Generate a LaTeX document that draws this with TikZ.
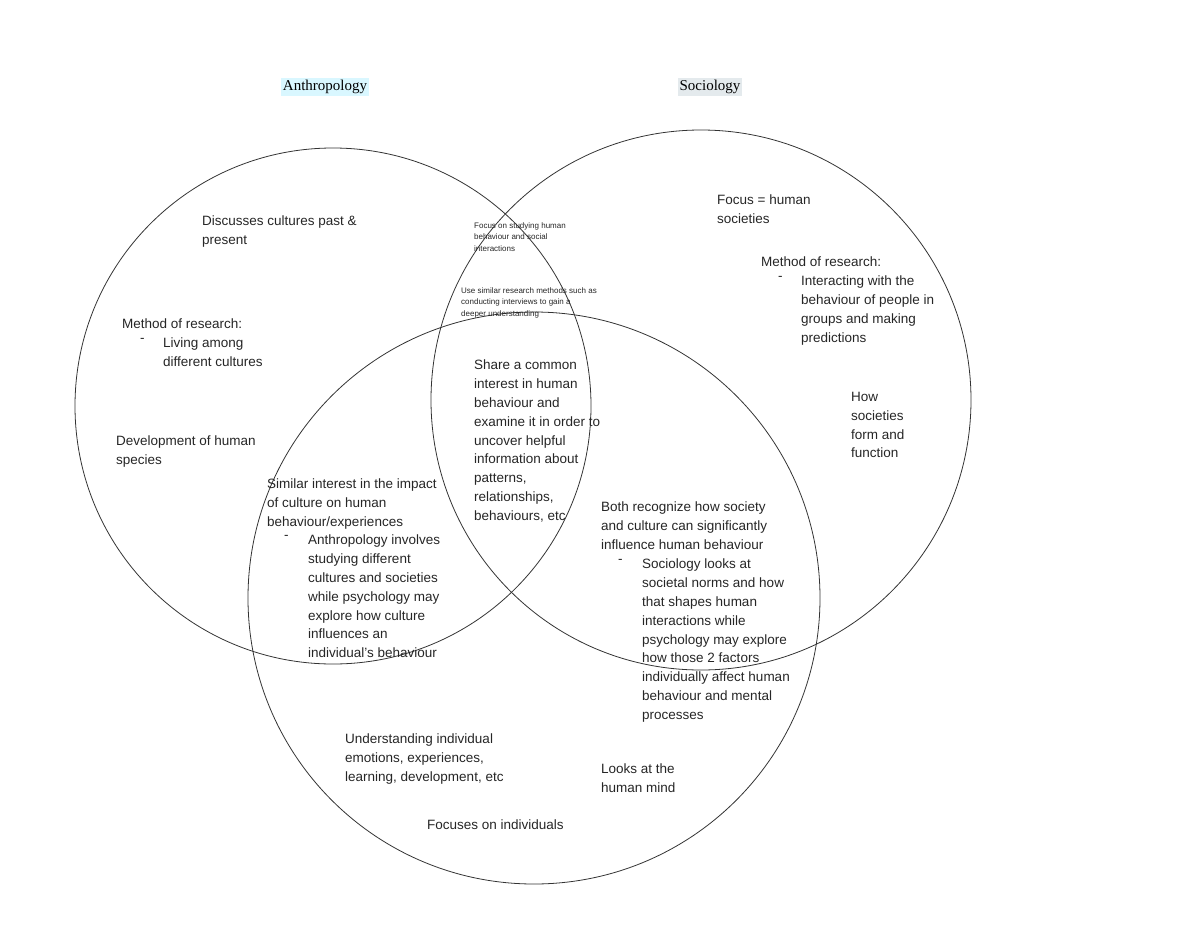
\documentclass[tikz,border=0pt]{standalone}
\usepackage{fontspec}
\setmainfont{Liberation Sans}
\newfontfamily\serifft{Liberation Serif}
\begin{document}
\begin{tikzpicture}[x=1pt,y=-1pt,
  txt/.style={anchor=north west,inner sep=0pt,align=left,font=\fontsize{13.5}{18.8}\selectfont,text=black!85},
  sml/.style={anchor=north west,inner sep=0pt,align=left,font=\fontsize{8}{11.5}\selectfont,text=black!85},
  ttl/.style={inner sep=2pt,font=\serifft\fontsize{15}{17}\selectfont},
  circ/.style={draw=black!80,line width=0.8pt}]
\useasboundingbox (0,0) rectangle (1200,927);
\node[ttl,fill=blue!20!cyan!15] (anth) at (325,87) {Anthropology};
\node[ttl,fill=cyan!20!gray!20] (soc) at (710,87) {Sociology};
\draw[circ] (333,406) circle (258) coordinate (ca);
\draw[circ] (701,400) circle (270) coordinate (cs);
\draw[circ] (534,598) circle (286) coordinate (cp);
% anthropology
\node[txt] (a1) at (202,216) {Discusses cultures past \&\\present};
\node[txt] (a2) at (122,319) {Method of research:};
\node[txt] (a3d) at (140,338) {-};
\node[txt] (a3) at (163,338) {Living among\\different cultures};
\node[txt] (a4) at (116,436) {Development of human\\species};
% sociology
\node[txt] (s1) at (717,195) {Focus = human\\societies};
\node[txt] (s2) at (761,257) {Method of research:};
\node[txt] (s3d) at (778,276) {-};
\node[txt] (s3) at (801,276) {Interacting with the\\behaviour of people in\\groups and making\\predictions};
\node[txt] (s4) at (851,392) {How\\societies\\form and\\function};
% small texts
\node[sml] (t1) at (474,222) {Focus on studying human\\behaviour and social\\interactions};
\node[sml] (t2) at (461,287) {Use similar research methods such as\\conducting interviews to gain a\\deeper understanding};
% centre
\node[txt] (c1) at (474,360) {Share a common\\interest in human\\behaviour and\\examine it in order to\\uncover helpful\\information about\\patterns,\\relationships,\\behaviours, etc};
% anth-psych
\node[txt] (ap1) at (267,479) {Similar interest in the impact\\of culture on human\\behaviour/experiences};
\node[txt] (ap2d) at (284,535) {-};
\node[txt] (ap2) at (308,535) {Anthropology involves\\studying different\\cultures and societies\\while psychology may\\explore how culture\\influences an\\individual's behaviour};
% soc-psych
\node[txt] (sp1) at (601,502) {Both recognize how society\\and culture can significantly\\influence human behaviour};
\node[txt] (sp2d) at (618,559) {-};
\node[txt] (sp2) at (642,559) {Sociology looks at\\societal norms and how\\that shapes human\\interactions while\\psychology may explore\\how those 2 factors\\individually affect human\\behaviour and mental\\processes};
% psych
\node[txt] (p1) at (345,734) {Understanding individual\\emotions, experiences,\\learning, development, etc};
\node[txt] (p2) at (601,764) {Looks at the\\human mind};
\node[txt] (p3) at (427,820) {Focuses on individuals};
\end{tikzpicture}
\end{document}
